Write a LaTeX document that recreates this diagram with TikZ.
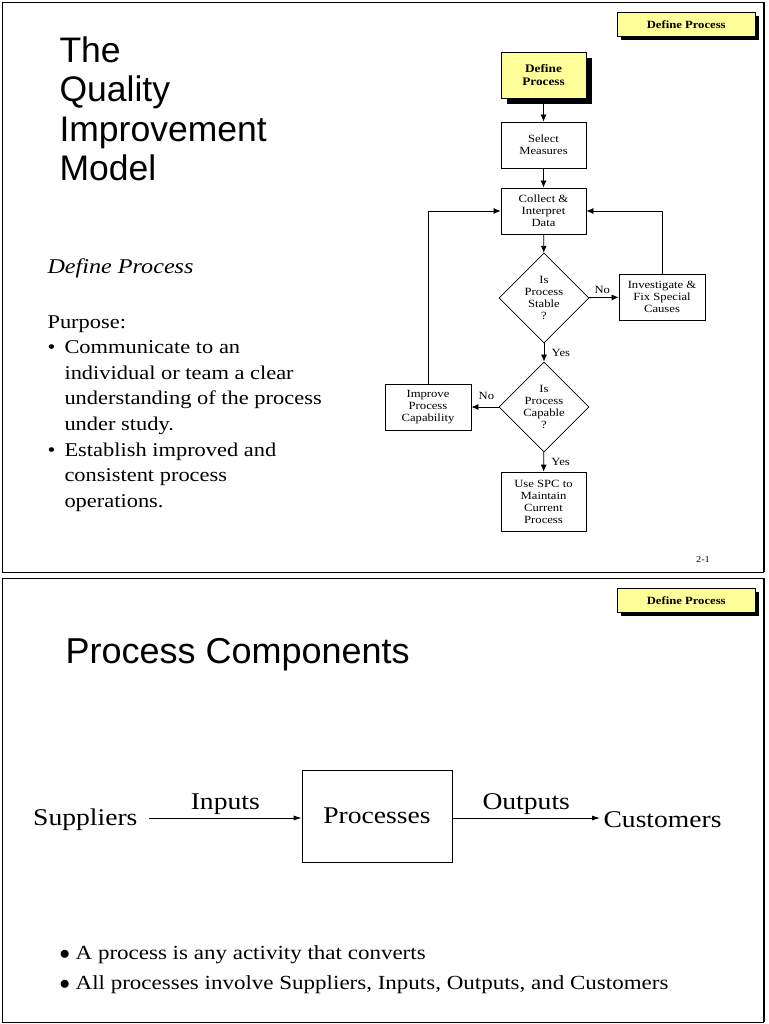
\documentclass[tikz,border=0pt]{standalone}
\usepackage{fontspec}
\setmainfont{Liberation Serif}[FakeStretch=1.15]
\newfontfamily\sansf{Liberation Sans}
\usetikzlibrary{shapes.geometric,arrows.meta}
\definecolor{tagyellow}{RGB}{255,255,153}
\begin{document}
\begin{tikzpicture}[x=1pt,y=-1pt,
  box/.style={draw,thick,fill=white,minimum width=85pt,align=center,font=\fontsize{11}{12}\selectfont,inner sep=1pt},
  dia/.style={draw,thick,diamond,aspect=1,minimum size=90pt,inner sep=0pt,align=center,font=\fontsize{11}{12}\selectfont,fill=white},
  arr/.style={thick,-{Latex[length=7pt,width=6pt]}},
  lbl/.style={font=\fontsize{11}{12}\selectfont},
  tag/.style={draw,fill=tagyellow,font=\bfseries\fontsize{11}{12}\selectfont,minimum width=138pt,minimum height=24pt},
  body/.style={font=\fontsize{19.5}{25.7}\selectfont,anchor=north west,align=left}]
\useasboundingbox (0,0) rectangle (768,1024);
\fill[white] (0,0) rectangle (768,1024);
% slide frames
\draw[thick] (2,2) rectangle (763,572);
\draw[line width=2pt] (764,2) -- (764,572);
\draw[thick] (2,578) rectangle (763,1022);
\draw[line width=2pt] (764,578) -- (764,1022);

% tags
\fill (621,16) rectangle (759,40);
\node[tag,anchor=north west] (tag1) at (617,12) {Define Process};
\fill (621,592) rectangle (759,616);
\node[tag,anchor=north west] (tag2) at (617,588) {Define Process};

% slide 1 left text
\node[anchor=north west,align=left,font=\sansf\fontsize{35.5}{39.5}\selectfont] (title1) at (56,33) {The\\Quality\\Improvement\\Model};
\node[anchor=west,font=\itshape\fontsize{21}{25}\selectfont] (sub1) at (44,268) {Define Process};
\node[body] (purp) at (44,312) {Purpose:};
\node[body] (b1) at (44,337) {\makebox[17pt][l]{\textbullet}Communicate to an\\
\hspace*{17pt}individual or team a clear\\
\hspace*{17pt}understanding of the process\\
\hspace*{17pt}under study.\\
\makebox[17pt][l]{\textbullet}Establish improved and\\
\hspace*{17pt}consistent process\\
\hspace*{17pt}operations.};
\node[font=\fontsize{9}{10}\selectfont] (pg) at (703,560) {2-1};

% flowchart
\fill (507,58) rectangle (592,104);
\node[box,fill=tagyellow,minimum height=46pt,font=\bfseries\fontsize{11.5}{13}\selectfont] (def) at (543.5,75) {Define\\Process};
\node[box,minimum height=46pt] (sel) at (543.5,145) {Select\\Measures};
\node[box,minimum height=46pt] (col) at (543.5,211) {Collect \&\\Interpret\\Data};
\node[dia] (st) at (544,298) {Is\\Process\\Stable\\?};
\node[box,minimum width=86pt,minimum height=46pt] (inv) at (662,297) {Investigate \&\\Fix Special\\Causes};
\node[dia] (cap) at (544,407) {Is\\Process\\Capable\\?};
\node[box,minimum width=86pt,minimum height=46pt] (imp) at (428,407) {Improve\\Process\\Capability};
\node[box,minimum height=59pt] (spc) at (543.5,501.5) {Use SPC to\\Maintain\\Current\\Process};

\draw[arr] (def) -- (sel);
\draw[arr] (sel) -- (col);
\draw[arr] (col) -- (st);
\draw[arr] (st) -- node[lbl,above,pos=0.45] {No} (inv);
\draw[arr] (st) -- node[lbl,right,xshift=4pt] {Yes} (cap);
\draw[arr] (cap) -- node[lbl,above,pos=0.45,yshift=4pt] {No} (imp);
\draw[arr] (cap) -- node[lbl,right,xshift=4pt] {Yes} (spc);
\draw[arr] (inv.north) |- (col.east);
\draw[arr] (imp.north) |- (col.west);

% slide 2
\node[anchor=west,font=\sansf\fontsize{36}{40}\selectfont] (title2) at (62,655) {Process Components};
\node[draw,thick,minimum width=150pt,minimum height=92pt,font=\fontsize{24}{28}\selectfont] (proc) at (377,816) {Processes};
\node[anchor=east,font=\fontsize{24}{28}\selectfont] (sup) at (141,820) {Suppliers};
\node[anchor=west,font=\fontsize{24}{28}\selectfont] (cus) at (600,820) {Customers};
\draw[thick,-{Latex[length=8pt,width=5pt]}] (sup.east) ++(8,-2) coordinate (s0) -- (proc.west |- s0) node[midway,above,font=\fontsize{24}{28}\selectfont] {Inputs};
\draw[thick,-{Latex[length=8pt,width=5pt]}] (proc.east |- s0) -- (cus.west |- s0) node[midway,above,font=\fontsize{24}{28}\selectfont] {Outputs};
\node[anchor=west,font=\fontsize{20}{30}\selectfont,align=left] (bl) at (56,970) {$\bullet$ A process is any activity that converts\\$\bullet$ All processes involve Suppliers, Inputs, Outputs, and Customers};
\end{tikzpicture}
\end{document}
